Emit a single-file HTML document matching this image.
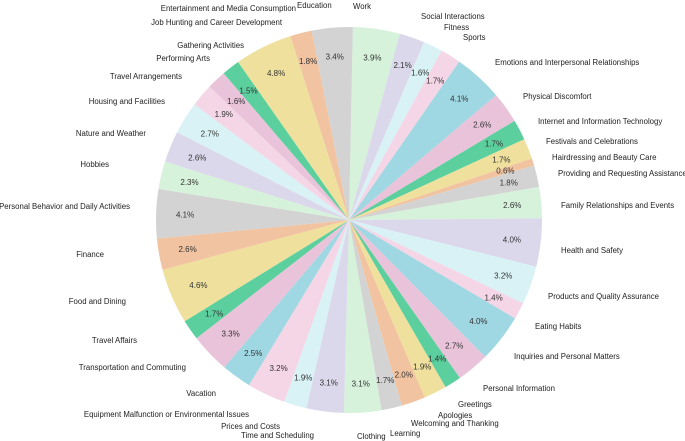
<!DOCTYPE html>
<html><head><meta charset="utf-8"><style>
html,body{margin:0;padding:0;background:#fff;}
svg{display:block;font-family:"Liberation Sans",sans-serif;}
</style></head><body>
<svg id="s" width="685" height="441" xmlns="http://www.w3.org/2000/svg"></svg>
<script>
var d=[["Work",3.9,0],["Social Interactions",2.1,1],["Fitness",1.6,2],["Sports",1.7,3],["Emotions and Interpersonal Relationships",4.1,4],["Physical Discomfort",2.6,5],["Internet and Information Technology",1.7,6],["Festivals and Celebrations",1.7,7],["Hairdressing and Beauty Care",0.6,8],["Providing and Requesting Assistance",1.8,9],["Family Relationships and Events",2.6,0],["Health and Safety",4.0,1],["Products and Quality Assurance",3.2,2],["Eating Habits",1.4,3],["Inquiries and Personal Matters",4.0,4],["Personal Information",2.7,5],["Greetings",1.4,6],["Apologies",1.9,7],["Welcoming and Thanking",2.0,8],["Learning",1.7,9],["Clothing",3.1,0],["Time and Scheduling",3.1,1],["Prices and Costs",1.9,2],["Equipment Malfunction or Environmental Issues",3.2,3],["Vacation",2.5,4],["Transportation and Commuting",3.3,5],["Travel Affairs",1.7,6],["Food and Dining",4.6,7],["Finance",2.6,8],["Personal Behavior and Daily Activities",4.1,9],["Hobbies",2.3,0],["Nature and Weather",2.6,1],["Housing and Facilities",2.7,2],["Travel Arrangements",1.9,3],["Performing Arts",1.6,5],["Gathering Activities",1.5,6],["Job Hunting and Career Development",4.8,7],["Entertainment and Media Consumption",1.8,8],["Education",3.4,9]];
var col=["#d6f2da","#dcd8ec","#d9f2f6","#f4d6e6","#9fd8e2","#e9c3d9","#5ccf9e","#efe19d","#f1c3a0","#d3d3d3"];
var lab={"Education":[297,8,"start"],"Entertainment and Media Consumption":[296,11,"end"],"Job Hunting and Career Development":[282,25,"end"],"Gathering Activities":[244,48,"end"],"Performing Arts":[210,61,"end"],"Travel Arrangements":[182,79,"end"],"Housing and Facilities":[165,104,"end"],"Nature and Weather":[146,136,"end"],"Hobbies":[109,167,"end"],"Personal Behavior and Daily Activities":[130,209,"end"],"Finance":[104,257,"end"],"Food and Dining":[126,304,"end"],"Travel Affairs":[137,343,"end"],"Transportation and Commuting":[186,370,"end"],"Vacation":[216,396,"end"],"Equipment Malfunction or Environmental Issues":[249,417,"end"],"Prices and Costs":[280,429,"end"],"Time and Scheduling":[314,438,"end"],"Clothing":[357,439,"start"],"Learning":[390,436,"start"],"Welcoming and Thanking":[411,426,"start"],"Apologies":[438,418,"start"],"Greetings":[458,407,"start"],"Personal Information":[483,391,"start"],"Inquiries and Personal Matters":[514,359,"start"],"Eating Habits":[535,329,"start"],"Products and Quality Assurance":[548,299,"start"],"Health and Safety":[561,253,"start"],"Family Relationships and Events":[561,208,"start"],"Providing and Requesting Assistance":[558,176,"start"],"Hairdressing and Beauty Care":[552,160,"start"],"Festivals and Celebrations":[546,144,"start"],"Internet and Information Technology":[538,124,"start"],"Physical Discomfort":[523,99,"start"],"Emotions and Interpersonal Relationships":[495,65,"start"],"Sports":[463,40,"start"],"Fitness":[444,30,"start"],"Social Interactions":[421,19,"start"],"Work":[353,9,"start"]};
var cx=349,cy=220,r=193,tot=0;d.forEach(function(e){tot+=e[1];});
var s='',t='',a=-Math.PI/2+0.02;
d.forEach(function(e){var sw=e[1]/tot*2*Math.PI,b=a+sw;
var x1=cx+r*Math.cos(a),y1=cy+r*Math.sin(a),x2=cx+r*Math.cos(b),y2=cy+r*Math.sin(b);
s+='<path d="M'+cx+','+cy+'L'+x1.toFixed(2)+','+y1.toFixed(2)+'A'+r+','+r+' 0 0 1 '+x2.toFixed(2)+','+y2.toFixed(2)+'Z" fill="'+col[e[2]]+'"/>';
var m=(a+b)/2,px=cx+164*Math.cos(m),py=cy+164*Math.sin(m);
t+='<text x="'+px.toFixed(1)+'" y="'+(py+3).toFixed(1)+'" text-anchor="middle" font-size="8" fill="#333">'+e[1].toFixed(1)+'%</text>';
var L=lab[e[0]];t+='<text x="'+L[0]+'" y="'+L[1]+'" text-anchor="'+L[2]+'" font-size="7.8" fill="#222">'+e[0]+'</text>';
a=b;});
document.getElementById('s').innerHTML=s+t;
</script>
</body></html>
